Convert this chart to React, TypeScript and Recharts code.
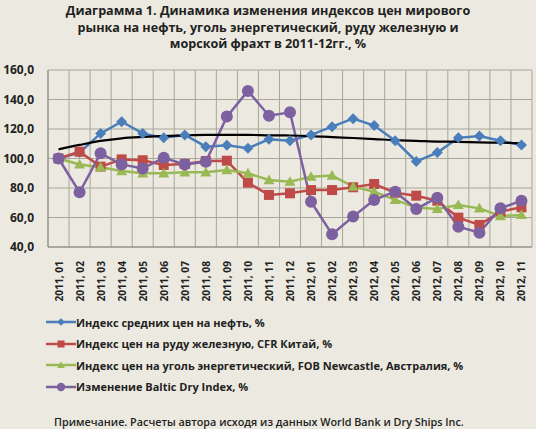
import React from 'react';
import { LineChart, Line, XAxis, YAxis, CartesianGrid } from 'recharts';

const categories = ['2011, 01','2011, 02','2011, 03','2011, 04','2011, 05','2011, 06','2011, 07','2011, 08','2011, 09','2011, 10','2011, 11','2011, 12','2012, 01','2012, 02','2012, 03','2012, 04','2012, 05','2012, 06','2012, 07','2012, 08','2012, 09','2012, 10','2012, 11'];
const oil = [100,104,117,125,117,114,116,108,109,107,113,112,116,121.6,127,122.3,112,98,104,114,115.3,112,109.2];
const ore = [100,104.6,94.5,99.4,98.8,95.6,96.3,98.3,98.5,83.6,75.3,76.4,78.6,78.6,80.5,82.7,76.8,74.8,71.4,59.9,55,64,66.9];
const coal = [100,96,94,91.5,90,90,90.6,90.6,92.2,90,85.4,84.3,87.7,88.4,80.9,77.5,71.9,66.7,65.8,68.5,66.2,61,61.7];
const bdi = [100,77.1,103.5,96,93.3,100.5,96,97.8,128.4,145.8,129,131.3,70.7,48.6,60.6,71.9,77.5,65.8,73.4,53.8,49.7,66.2,71.4];
const trend = [106.2,109.2,111.9,113.7,114.6,115.2,115.7,116,116,116,115.7,115.6,115.2,114.5,113.9,113.2,112.4,112,111.5,111.3,110.9,110.7,110.2];
const yTicks = [40,60,80,100,120,140,160];
const titleLines = ['Диаграмма 1. Динамика изменения индексов цен мирового','рынка на нефть, уголь энергетический, руду железную и','морской фрахт в 2011-12гг., %'];
const legendNames = ['Индекс средних цен на нефть, %','Индекс цен на руду железную, CFR Китай, %','Индекс цен на уголь энергетический, FOB Newcastle, Австралия, %','Изменение Baltic Dry Index, %'];
const note = 'Примечание. Расчеты автора исходя из данных World Bank и Dry Ships Inc.';

const data = categories.map((c, i) => ({ c, oil: oil[i], ore: ore[i], coal: coal[i], bdi: bdi[i], trend: trend[i] }));

const BLUE = '#4A7EBB';
const RED = '#BE4B48';
const GREEN = '#98B954';
const PURPLE = '#7D60A0';
const FONT = '"Open Sans", "Noto Sans", sans-serif';

type Shape = 'diamond' | 'square' | 'triangle' | 'circle';

function Marker({ shape, cx, cy, color, s = 1 }: { shape: Shape; cx: number; cy: number; color: string; s?: number }) {
  if (shape === 'diamond') {
    const r = 5.5 * s;
    return <polygon points={`${cx},${cy - r} ${cx + r},${cy} ${cx},${cy + r} ${cx - r},${cy}`} fill={color} />;
  }
  if (shape === 'square') {
    const r = 5 * s;
    return <rect x={cx - r} y={cy - r} width={2 * r} height={2 * r} fill={color} />;
  }
  if (shape === 'triangle') {
    const r = 5.5 * s;
    return <polygon points={`${cx},${cy - r} ${cx + r},${cy + r * 0.75} ${cx - r},${cy + r * 0.75}`} fill={color} />;
  }
  return <circle cx={cx} cy={cy} r={6 * s} fill={color} />;
}

const makeDot = (shape: Shape, color: string) => (props: any) => {
  const { cx, cy, index } = props;
  if (cx == null || cy == null) return <g key={index} />;
  return <Marker key={index} shape={shape} cx={cx} cy={cy} color={color} />;
};

const XTick = (props: any) => {
  const { x, y, payload } = props;
  return (
    <text transform={`translate(${x},${y + 3}) rotate(-90)`} x={0} y={0} dy={4} textAnchor="end" fontFamily={FONT} fontWeight={700} fontSize={10.2} fill="#222">
      {payload.value}
    </text>
  );
};

const YTick = (props: any) => {
  const { x, y, payload } = props;
  return (
    <text x={x} y={y} dy={4} textAnchor="end" fontFamily={FONT} fontWeight={700} fontSize={12} fill="#222">
      {payload.value.toFixed(1).replace('.', ',')}
    </text>
  );
};

const legendItems: { name: string; color: string; shape: Shape }[] = [
  { name: legendNames[0], color: BLUE, shape: 'diamond' },
  { name: legendNames[1], color: RED, shape: 'square' },
  { name: legendNames[2], color: GREEN, shape: 'triangle' },
  { name: legendNames[3], color: PURPLE, shape: 'circle' },
];

export default function App() {
  return (
    <div style={{ position: 'fixed', left: 0, top: 0, width: 536, height: 429, background: '#ECEAE0', overflow: 'hidden' }}>
      <div style={{ position: 'absolute', left: 0, top: 3, width: 536, textAlign: 'center', fontFamily: FONT, fontWeight: 700, fontSize: 12.6, lineHeight: '16.5px', color: '#222' }}>
        {titleLines.map((t, i) => <div key={i}>{t}</div>)}
      </div>
      <LineChart width={536} height={429} data={data} margin={{ top: 70, right: 4, bottom: 117, left: 0 }} style={{ position: 'absolute', left: 0, top: 0 }}>
        <CartesianGrid
          stroke="#A8A699"
          strokeWidth={1}
          verticalCoordinatesGenerator={({ offset }: any) => categories.map((_, i) => offset.left + (i * offset.width) / categories.length).concat([offset.left + offset.width])}
        />
        <XAxis dataKey="c" scale="band" interval={0} tick={<XTick />} tickLine={false} axisLine={{ stroke: '#888' }} height={65} tickMargin={5} />
        <YAxis domain={[40, 160]} ticks={yTicks} tick={<YTick />} width={48} axisLine={{ stroke: '#888' }} tickLine={false} tickMargin={8} />
        <Line dataKey="oil" stroke={BLUE} strokeWidth={2.5} dot={makeDot('diamond', BLUE)} isAnimationActive={false} />
        <Line dataKey="ore" stroke={RED} strokeWidth={2.5} dot={makeDot('square', RED)} isAnimationActive={false} />
        <Line dataKey="coal" stroke={GREEN} strokeWidth={2.5} dot={makeDot('triangle', GREEN)} isAnimationActive={false} />
        <Line dataKey="bdi" stroke={PURPLE} strokeWidth={2.5} dot={makeDot('circle', PURPLE)} isAnimationActive={false} />
        <Line dataKey="trend" type="monotone" stroke="#000" strokeWidth={2.2} dot={false} isAnimationActive={false} />
      </LineChart>
      {legendItems.map((it, i) => (
        <div key={i} style={{ position: 'absolute', left: 46, top: 314 + i * 21.5, height: 16, display: 'flex', alignItems: 'center' }}>
          <svg width={30} height={16}>
            <line x1={0} y1={8} x2={30} y2={8} stroke={it.color} strokeWidth={2.5} />
            <Marker shape={it.shape} cx={15} cy={8} color={it.color} s={0.7} />
          </svg>
          <span style={{ fontFamily: FONT, fontWeight: 700, fontSize: 11, color: '#222', whiteSpace: 'nowrap' }}>{it.name}</span>
        </div>
      ))}
      <div style={{ position: 'absolute', left: 54, top: 414, fontFamily: FONT, fontWeight: 600, fontSize: 10.8, color: '#222', whiteSpace: 'nowrap' }}>{note}</div>
    </div>
  );
}
